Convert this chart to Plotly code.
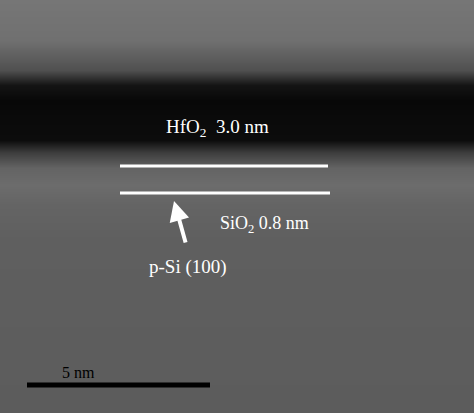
import plotly.graph_objects as go

# row position (pixel) and mean gray level of each layer in the micrograph
band_rows = [0, 40, 70, 85, 100, 140, 152, 168, 185, 205, 240, 413]
band_gray = [118, 112, 80, 20, 8, 12, 60, 100, 108, 100, 95, 92]

W, H = 474, 413
fig = go.Figure(go.Heatmap(
    z=[[g, g] for g in band_gray], x=[0, W], y=band_rows, zsmooth="best",
    colorscale=[[0, "black"], [1, "white"]], zmin=0, zmax=255,
    showscale=False, hoverinfo="skip"))

serif = "Liberation Serif, DejaVu Serif, serif"
fig.update_layout(
    width=W, height=H, margin=dict(l=0, r=0, t=0, b=0),
    xaxis=dict(range=[0, W], visible=False, fixedrange=True),
    yaxis=dict(range=[H, 0], visible=False, fixedrange=True),
    paper_bgcolor="#5e5e5e", plot_bgcolor="#5e5e5e",
    shapes=[
        dict(type="line", x0=120, x1=328, y0=166, y1=166, line=dict(color="white", width=3)),
        dict(type="line", x0=120, x1=330, y0=193, y1=193, line=dict(color="white", width=3)),
        dict(type="line", x0=27, x1=210, y0=385, y1=385, line=dict(color="black", width=5)),
    ],
    annotations=[
        dict(x=217, y=128, text="HfO<sub>2</sub>  3.0 nm", showarrow=False,
             font=dict(family=serif, size=19, color="white")),
        dict(x=264, y=224, text="SiO<sub>2</sub> 0.8 nm", showarrow=False,
             font=dict(family=serif, size=18, color="white")),
        dict(x=188, y=267, text="p-Si (100)", showarrow=False,
             font=dict(family=serif, size=19, color="white")),
        dict(x=78, y=372, text="5 nm", showarrow=False,
             font=dict(family=serif, size=16, color="black")),
        dict(x=174, y=201, ax=186, ay=244, xref="x", yref="y", axref="x", ayref="y",
             text="", showarrow=True, arrowhead=2, arrowsize=1, arrowwidth=4,
             arrowcolor="white"),
    ],
)
fig.write_html("out.html", config={"displayModeBar": False},
               post_script="document.body.style.margin='0';window.dispatchEvent(new Event('resize'));")
